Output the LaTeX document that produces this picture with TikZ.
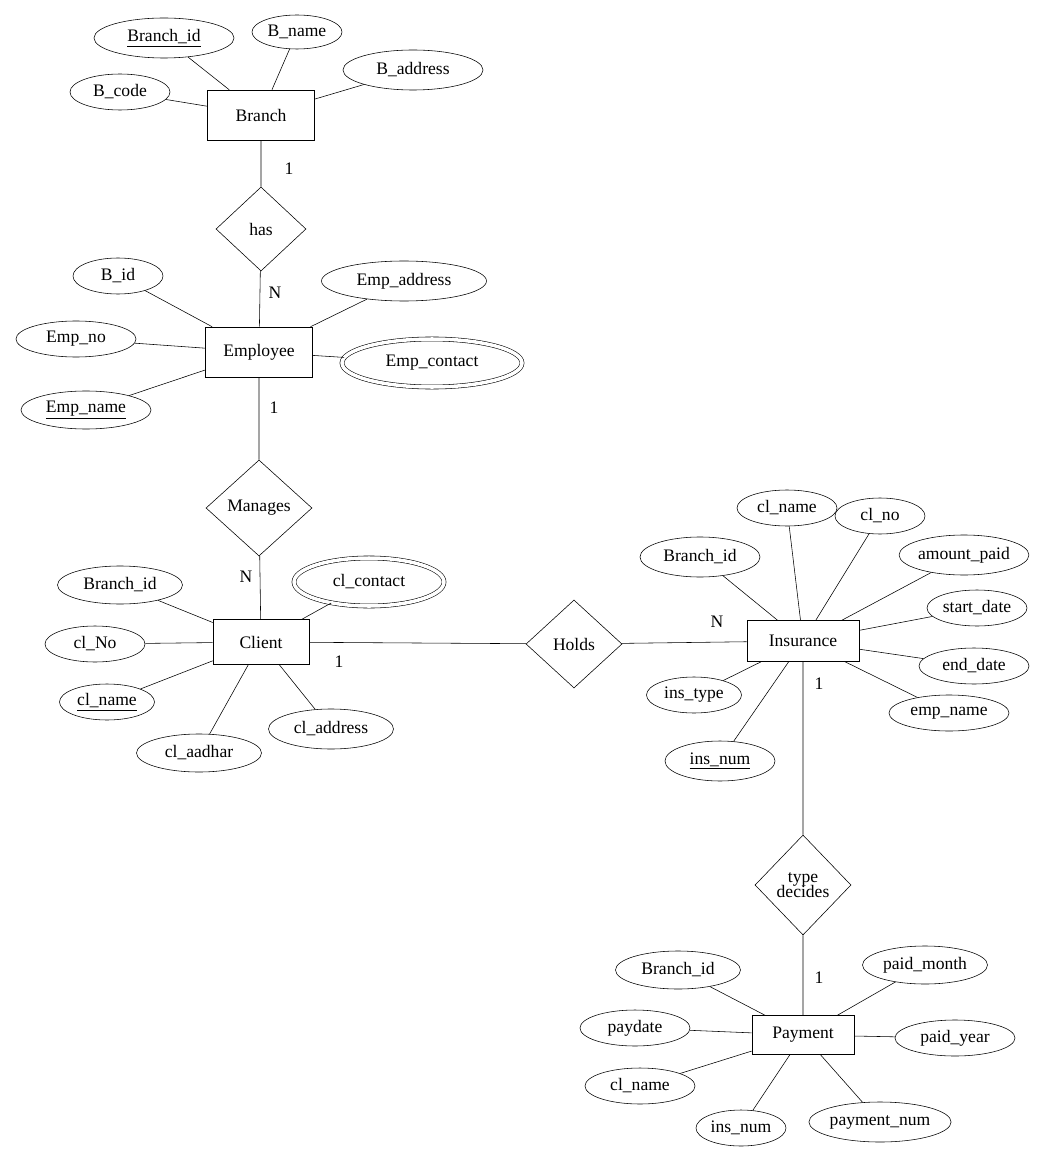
\documentclass[tikz,border=0pt]{standalone}
\usepackage{fontspec}
\setmainfont{Liberation Serif}
\usetikzlibrary{shapes.geometric}
\begin{document}
\begin{tikzpicture}[x=0.025cm,y=-0.025cm,
  every node/.style={font=\fontsize{12.5}{14}\selectfont},
  ea/.style 2 args={draw,ellipse,inner sep=0,minimum width=#1*0.025cm,minimum height=#2*0.025cm},
  mv/.style 2 args={draw,ellipse,double,double distance=2.5pt,inner sep=0,minimum width=#1*0.025cm,minimum height=#2*0.025cm},
  ent/.style 2 args={draw,rectangle,inner sep=0,minimum width=#1*0.025cm,minimum height=#2*0.025cm},
  rel/.style 2 args={draw,diamond,inner sep=0,minimum width=#1*0.025cm,minimum height=#2*0.025cm,align=center},
  card/.style={inner sep=0}]
\useasboundingbox (0,0) rectangle (1048,1168);
% entities
\node[ent={107}{50}] (br) at (261,115) {Branch};
\node[ent={107}{50}] (em) at (259,352) {Employee};
\node[ent={96}{45}] (cl) at (261,642) {Client};
\node[ent={112}{41}] (in) at (803,641) {Insurance};
\node[ent={102}{39}] (pa) at (803,1035) {Payment};
% relations
\node[rel={90}{84}] (has) at (261,229) {has};
\node[rel={106}{96}] (man) at (259,508) {Manages};
\node[rel={96}{88}] (hol) at (574,644) {Holds};
\node[rel={96}{100}] (typ) at (803,885) {type\\[-3pt]decides};
% branch attrs
\node[ea={140}{40}] (b1) at (164,38) {\underline{Branch\_id}};
\node[ea={90}{34}] (b2) at (297,32) {B\_name};
\node[ea={140}{40}] (b3) at (413,70) {B\_address};
\node[ea={100}{36}] (b4) at (120,92) {B\_code};
% employee attrs
\node[ea={90}{36}] (e1) at (118,276) {B\_id};
\node[ea={165}{40}] (e2) at (404,281) {Emp\_address};
\node[ea={120}{36}] (e3) at (76,339) {Emp\_no};
\node[mv={180}{48}] (e4) at (432,363) {Emp\_contact};
\node[ea={130}{38}] (e5) at (86,410) {\underline{Emp\_name}};
% client attrs
\node[ea={125}{38}] (c1) at (120,585) {Branch\_id};
\node[mv={150}{48}] (c2) at (369,582) {cl\_contact};
\node[ea={100}{36}] (c3) at (95,644) {cl\_No};
\node[ea={95}{36}] (c4) at (107,702) {\underline{cl\_name}};
\node[ea={125}{38}] (c5) at (199,753) {cl\_aadhar};
\node[ea={125}{40}] (c6) at (331,729) {cl\_address};
% insurance attrs
\node[ea={100}{36}] (i1) at (787,508) {cl\_name};
\node[ea={90}{36}] (i2) at (880,516) {cl\_no};
\node[ea={120}{40}] (i3) at (700,557) {Branch\_id};
\node[ea={125}{40}] (i4) at (964,555) {amount\_paid};
\node[ea={100}{36}] (i5) at (977,608) {start\_date};
\node[ea={110}{36}] (i6) at (974,666) {end\_date};
\node[ea={120}{36}] (i7) at (949,713) {emp\_name};
\node[ea={95}{36}] (i8) at (694,695) {ins\_type};
\node[ea={110}{40}] (i9) at (720,761) {\underline{ins\_num}};
% payment attrs
\node[ea={125}{38}] (p1) at (678,970) {Branch\_id};
\node[ea={125}{38}] (p2) at (925,965) {paid\_month};
\node[ea={110}{36}] (p3) at (635,1028) {paydate};
\node[ea={120}{36}] (p4) at (955,1038) {paid\_year};
\node[ea={110}{36}] (p5) at (640,1086) {cl\_name};
\node[ea={130}{40}] (p6) at (880,1122) {payment\_num};
\node[ea={90}{36}] (p7) at (741,1128) {ins\_num};
% connectors
\draw (br) -- (has) -- (em) -- (man) -- (cl) -- (hol) -- (in) -- (typ) -- (pa);
\foreach \a in {b1,b2,b3,b4} \draw (\a) -- (br);
\foreach \a in {e1,e2,e3,e4,e5} \draw (\a) -- (em);
\foreach \a in {c1,c2,c3,c4,c5,c6} \draw (\a) -- (cl);
\foreach \a in {i1,i2,i3,i4,i5,i6,i7,i8,i9} \draw (\a) -- (in);
\foreach \a in {p1,p2,p3,p4,p5,p6,p7} \draw (\a) -- (pa);
% cardinalities
\node[card] at (289,169) {1};
\node[card] at (275,293) {N};
\node[card] at (274,408) {1};
\node[card] at (246,577) {N};
\node[card] at (339,662) {1};
\node[card] at (717,622) {N};
\node[card] at (819,684) {1};
\node[card] at (819,978) {1};
\end{tikzpicture}
\end{document}
